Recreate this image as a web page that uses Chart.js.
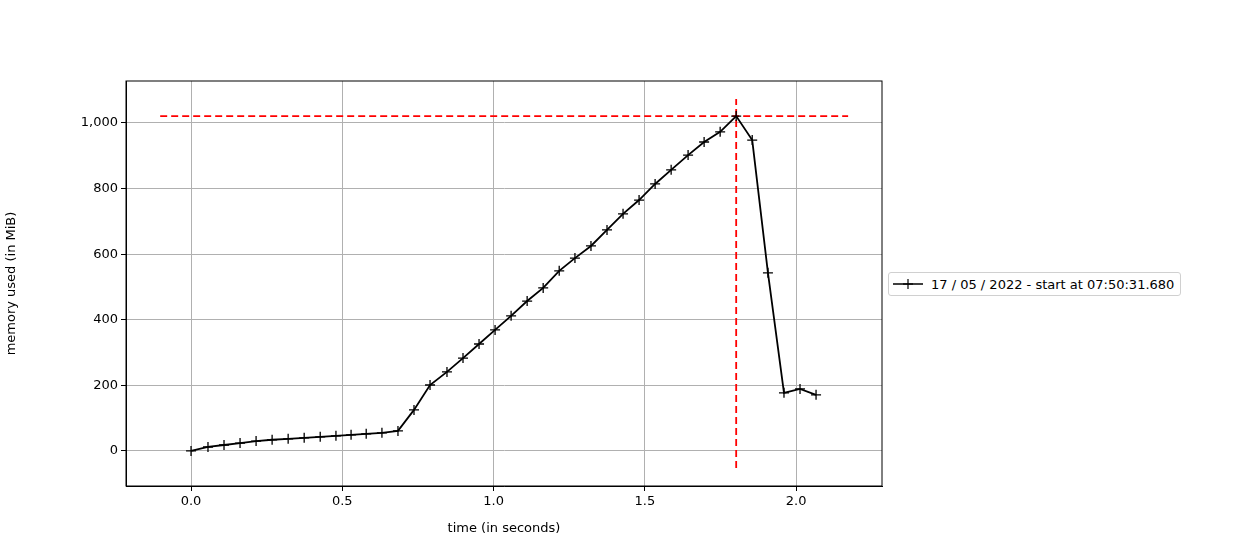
<!DOCTYPE html>
<html>
<head>
<meta charset="utf-8">
<script src="https://cdn.jsdelivr.net/npm/chart.js@4/dist/chart.umd.min.js"></script>
<style>
  body { margin: 0; background: #fff; font-family: "DejaVu Sans", sans-serif; }
  #wrap { position: relative; width: 1260px; height: 540px; }
  #legend { position: absolute; left: 888px; top: 272px; height: 22px; padding: 0 6px 0 4px;
    border: 1px solid #d0d0d0; border-radius: 3px; font-size: 13px; display: flex; align-items: center; background: #fff; }
  #legend svg { margin-right: 8px; }
</style>
</head>
<body>
<div id="wrap">
  <canvas id="chart" width="1260" height="540"></canvas>
  <div id="legend"><svg width="30" height="12"><line x1="0" y1="6" x2="30" y2="6" stroke="#000" stroke-width="1.5"/><line x1="15" y1="1" x2="15" y2="11" stroke="#000" stroke-width="1.2"/><line x1="10" y1="6" x2="20" y2="6" stroke="#000" stroke-width="1.2"/></svg>17 / 05 / 2022 - start at 07:50:31.680</div>
</div>
<script>
const times = [0, 0.056, 0.109, 0.162, 0.215, 0.268, 0.321, 0.374, 0.427, 0.479, 0.529, 0.579, 0.631, 0.684,
  0.737, 0.790, 0.846, 0.899, 0.952, 1.005, 1.058, 1.111, 1.164, 1.217, 1.269, 1.322, 1.375, 1.428, 1.481,
  1.534, 1.587, 1.643, 1.696, 1.749, 1.802, 1.855, 1.907, 1.960, 2.013, 2.066];
const memory = [0, 12, 18, 24, 30, 34, 37, 40, 43, 46, 49, 52, 55, 61,
  125, 201, 241, 283, 326, 369, 412, 457, 497, 549, 588, 625, 674, 723, 765,
  814, 857, 902, 942, 973, 1021, 948, 543, 177, 189, 171];
const peakTime = 1.802;
const peakMem = 1021;
const xTicks = [0, 0.5, 1.0, 1.5, 2.0];
const yTicks = [0, 200, 400, 600, 800, 1000];

const font = { family: 'DejaVu Sans', size: 13 };
const frame = {
  id: 'frame',
  afterDraw(chart) {
    const a = chart.chartArea, ctx = chart.ctx;
    ctx.save();
    ctx.strokeStyle = '#000';
    ctx.lineWidth = 1;
    ctx.strokeRect(a.left, a.top, a.right - a.left, a.bottom - a.top);
    ctx.restore();
  }
};

new Chart(document.getElementById('chart'), {
  type: 'line',
  data: {
    datasets: [
      {
        data: times.map((t, i) => ({ x: t, y: memory[i] })),
        borderColor: '#000', backgroundColor: '#000', borderWidth: 1.8,
        pointStyle: 'cross', pointRadius: 5, pointBorderWidth: 1.3, tension: 0
      },
      {
        data: [{ x: -0.102, y: peakMem }, { x: 2.172, y: peakMem }],
        borderColor: '#ff0000', borderWidth: 1.8, borderDash: [7, 4], pointRadius: 0
      },
      {
        data: [{ x: peakTime, y: -52 }, { x: peakTime, y: 1073 }],
        borderColor: '#ff0000', borderWidth: 1.8, borderDash: [7, 4], pointRadius: 0
      }
    ]
  },
  options: {
    responsive: false, animation: false,
    layout: { padding: { left: 0, top: 81, right: 378, bottom: 0 } },
    plugins: { legend: { display: false }, tooltip: { enabled: false } },
    scales: {
      x: {
        type: 'linear', min: -0.215, max: 2.284,
        afterBuildTicks: s => { s.ticks = xTicks.map(v => ({ value: v })); },
        afterFit: s => { s.height = 54; },
        ticks: { color: '#000', font, callback: v => v.toFixed(1), maxRotation: 0 },
        grid: { color: '#b0b0b0', tickColor: '#000', tickLength: 5 },
        border: { color: '#000' },
        title: { display: true, text: 'time (in seconds)', color: '#000', font, padding: { top: 2 } }
      },
      y: {
        min: -107, max: 1128,
        afterBuildTicks: s => { s.ticks = yTicks.map(v => ({ value: v })); },
        afterFit: s => { s.width = 126; },
        ticks: { color: '#000', font },
        grid: { color: '#b0b0b0', tickColor: '#000', tickLength: 5 },
        border: { color: '#000' },
        title: { display: true, text: 'memory used (in MiB)', color: '#000', font }
      }
    }
  },
  plugins: [frame]
});
</script>
</body>
</html>
